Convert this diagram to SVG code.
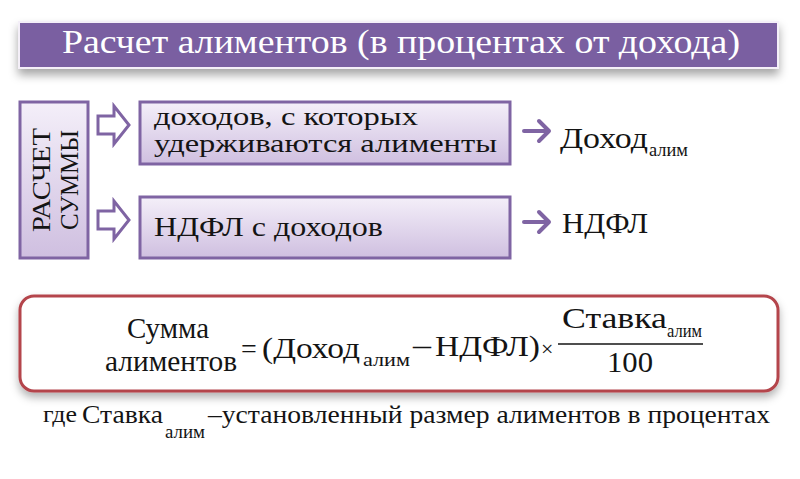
<svg xmlns="http://www.w3.org/2000/svg" width="800" height="479" viewBox="0 0 800 479">
<defs>
  <linearGradient id="boxg" x1="0" y1="0" x2="0" y2="1">
    <stop offset="0" stop-color="#f4eff9"/>
    <stop offset="1" stop-color="#cfbfe0"/>
  </linearGradient>
  <filter id="sh" x="-5%" y="-20%" width="110%" height="160%">
    <feDropShadow dx="0" dy="6" stdDeviation="5" flood-color="#000" flood-opacity="0.35"/>
  </filter>
  <filter id="sh2" x="-5%" y="-20%" width="110%" height="150%">
    <feDropShadow dx="0" dy="5" stdDeviation="4" flood-color="#000" flood-opacity="0.3"/>
  </filter>
  <style>
    text { font-family: 'Liberation Serif', 'DejaVu Serif', serif; fill: #141414; }
    .box { fill: url(#boxg); stroke: #7f64a3; stroke-width: 3; }
    .barrow { fill: #ffffff; stroke: #7f64a3; stroke-width: 3; stroke-linejoin: miter; }
    .sarrow { fill: none; stroke: #7f64a3; stroke-width: 4; stroke-linecap: round; stroke-linejoin: round; }
  </style>
</defs>
<rect width="800" height="479" fill="#ffffff"/>

<g id="title">
  <rect x="19" y="22" width="759" height="46" fill="#7a5fa1" stroke="#f4eff8" stroke-width="2" filter="url(#sh)"/>
  <text x="62" y="53" style="fill:#ffffff" font-size="33" textLength="678" lengthAdjust="spacingAndGlyphs">Расчет алиментов (в процентах от дохода)</text>
</g>

<g id="side">
  <rect x="20" y="102" width="68" height="156" class="box"/>
  <text font-size="26" text-anchor="middle" transform="translate(50,180) rotate(-90)" textLength="104" lengthAdjust="spacingAndGlyphs">РАСЧЕТ</text>
  <text font-size="26" text-anchor="middle" transform="translate(78,180) rotate(-90)" textLength="100" lengthAdjust="spacingAndGlyphs">СУММЫ</text>
</g>

<g id="box1">
  <rect x="140" y="102" width="370" height="62" class="box"/>
  <text x="154" y="125" font-size="26" textLength="264" lengthAdjust="spacingAndGlyphs">доходов, с которых</text>
  <text x="154" y="152" font-size="26" textLength="343" lengthAdjust="spacingAndGlyphs">удерживаются алименты</text>
</g>

<g id="box2">
  <rect x="140" y="197" width="370" height="61" class="box"/>
  <text x="154" y="236" font-size="27" textLength="229" lengthAdjust="spacingAndGlyphs">НДФЛ с доходов</text>
</g>

<g id="result1">
  <text x="560" y="148" font-size="30" textLength="88" lengthAdjust="spacingAndGlyphs">Доход</text>
  <text x="649" y="156" font-size="18" textLength="39" lengthAdjust="spacingAndGlyphs">алим</text>
</g>

<g id="result2">
  <text x="562" y="233" font-size="30" textLength="86" lengthAdjust="spacingAndGlyphs">НДФЛ</text>
</g>

<g id="connectors">
  <path d="M98,116 H114 V106 L129,125 L114,144 V134 H98 Z" class="barrow"/>
  <path d="M98,211 H114 V201 L129,220 L114,239 V229 H98 Z" class="barrow"/>
  <path d="M524,131 H549 M539,121 L549,131 L539,141" class="sarrow"/>
  <path d="M524,222 H549 M539,212 L549,222 L539,232" class="sarrow"/>
</g>

<g id="formula">
  <rect x="20" y="296" width="758" height="95" rx="14" ry="14" fill="#ffffff" stroke="#b4454c" stroke-width="3" filter="url(#sh2)"/>
  <text x="127" y="338" font-size="30" textLength="82" lengthAdjust="spacingAndGlyphs">Сумма</text>
  <text x="105" y="371" font-size="30" textLength="132" lengthAdjust="spacingAndGlyphs">алиментов</text>
  <text x="241" y="358" font-size="28">=</text>
  <text x="262" y="358" font-size="30" textLength="98" lengthAdjust="spacingAndGlyphs">(Доход</text>
  <text x="363" y="366" font-size="19" textLength="47" lengthAdjust="spacingAndGlyphs">алим</text>
  <text x="413" y="355" font-size="30" textLength="18" lengthAdjust="spacingAndGlyphs">–</text>
  <text x="435" y="356" font-size="30" textLength="105" lengthAdjust="spacingAndGlyphs">НДФЛ)</text>
  <text x="541" y="356" font-size="22">×</text>
  <text x="562" y="328" font-size="30" textLength="105" lengthAdjust="spacingAndGlyphs">Ставка</text>
  <text x="667" y="337" font-size="19" textLength="35" lengthAdjust="spacingAndGlyphs">алим</text>
  <line x1="558" y1="344" x2="703" y2="344" stroke="#141414" stroke-width="1.5"/>
  <text x="607" y="372" font-size="30" textLength="46" lengthAdjust="spacingAndGlyphs">100</text>
</g>

<g id="note">
  <text x="43" y="422" font-size="24" textLength="34" lengthAdjust="spacingAndGlyphs">где</text>
  <text x="82" y="423" font-size="26" textLength="81" lengthAdjust="spacingAndGlyphs">Ставка</text>
  <text x="165" y="438" font-size="18" textLength="40" lengthAdjust="spacingAndGlyphs">алим</text>
  <text x="208" y="423" font-size="25" textLength="562" lengthAdjust="spacingAndGlyphs">–установленный размер алиментов в процентах</text>
</g>
</svg>
